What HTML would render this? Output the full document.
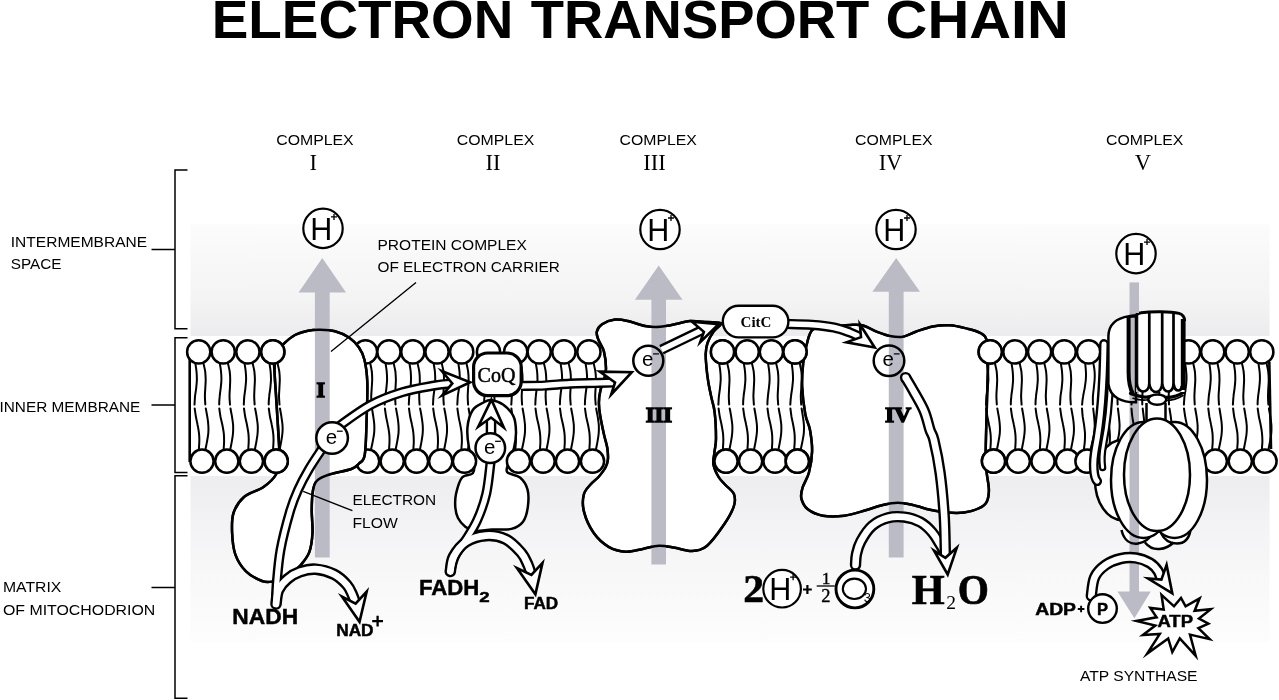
<!DOCTYPE html>
<html lang="en"><head><meta charset="utf-8"><title>Electron Transport Chain</title>
<style>html,body{margin:0;padding:0;background:#fff;overflow:hidden}svg{display:block}text{fill:#000}</style></head>
<body>
<svg width="1279" height="700" viewBox="0 0 1279 700">
<defs><linearGradient id="g1" x1="0" y1="0" x2="0" y2="1"><stop offset="0" stop-color="#fcfcfd"/><stop offset="0.3" stop-color="#f8f8f9"/><stop offset="0.65" stop-color="#f4f4f5"/><stop offset="1" stop-color="#ececee"/></linearGradient><linearGradient id="g2" x1="0" y1="0" x2="0" y2="1"><stop offset="0" stop-color="#ededef"/><stop offset="0.3" stop-color="#f3f3f5"/><stop offset="0.6" stop-color="#f8f8f9"/><stop offset="0.85" stop-color="#fbfbfc"/><stop offset="1" stop-color="#fdfdfe"/></linearGradient></defs>
<rect width="1279" height="700" fill="#fff"/>
<rect x="190.5" y="224" width="1079" height="112" fill="url(#g1)"/>
<rect x="190.5" y="476" width="1079" height="166" fill="url(#g2)"/>
<text x="211.8" y="38.4" font-family="'Liberation Sans'" font-size="54.4" font-weight="bold" text-anchor="start" textLength="301.5" lengthAdjust="spacingAndGlyphs" >ELECTRON</text>
<text x="530.8" y="38.4" font-family="'Liberation Sans'" font-size="54.4" font-weight="bold" text-anchor="start" textLength="338.5" lengthAdjust="spacingAndGlyphs" >TRANSPORT</text>
<text x="885.6" y="38.4" font-family="'Liberation Sans'" font-size="54.4" font-weight="bold" text-anchor="start" textLength="183.3" lengthAdjust="spacingAndGlyphs" >CHAIN</text>
<text x="276.2" y="145.1" font-family="'Liberation Sans'" font-size="14.7" font-weight="normal" text-anchor="start" textLength="77.5" lengthAdjust="spacingAndGlyphs" >COMPLEX</text>
<text x="313.3" y="170.3" font-family="'Liberation Serif'" font-size="22.5" font-weight="normal" text-anchor="middle" >I</text>
<text x="456.8" y="145.1" font-family="'Liberation Sans'" font-size="14.7" font-weight="normal" text-anchor="start" textLength="77.5" lengthAdjust="spacingAndGlyphs" >COMPLEX</text>
<text x="492.9" y="170.3" font-family="'Liberation Serif'" font-size="22.5" font-weight="normal" text-anchor="middle" >II</text>
<text x="619.5" y="145.1" font-family="'Liberation Sans'" font-size="14.7" font-weight="normal" text-anchor="start" textLength="77.3" lengthAdjust="spacingAndGlyphs" >COMPLEX</text>
<text x="654.6" y="170.3" font-family="'Liberation Serif'" font-size="22.5" font-weight="normal" text-anchor="middle" >III</text>
<text x="855.1" y="145.1" font-family="'Liberation Sans'" font-size="14.7" font-weight="normal" text-anchor="start" textLength="77.4" lengthAdjust="spacingAndGlyphs" >COMPLEX</text>
<text x="890.5" y="170.3" font-family="'Liberation Serif'" font-size="22.5" font-weight="normal" text-anchor="middle" >IV</text>
<text x="1106" y="145.1" font-family="'Liberation Sans'" font-size="14.7" font-weight="normal" text-anchor="start" textLength="77.4" lengthAdjust="spacingAndGlyphs" >COMPLEX</text>
<text x="1142.8" y="170.3" font-family="'Liberation Serif'" font-size="22.5" font-weight="normal" text-anchor="middle" >V</text>
<text x="10.8" y="246.9" font-family="'Liberation Sans'" font-size="15.3" font-weight="normal" text-anchor="start" textLength="136.3" lengthAdjust="spacingAndGlyphs" >INTERMEMBRANE</text>
<text x="10.8" y="269.4" font-family="'Liberation Sans'" font-size="15.3" font-weight="normal" text-anchor="start" textLength="50.8" lengthAdjust="spacingAndGlyphs" >SPACE</text>
<text x="-0.5" y="411.8" font-family="'Liberation Sans'" font-size="15.3" font-weight="normal" text-anchor="start" textLength="140.8" lengthAdjust="spacingAndGlyphs" >INNER MEMBRANE</text>
<text x="3" y="592.4" font-family="'Liberation Sans'" font-size="15.3" font-weight="normal" text-anchor="start" textLength="58.3" lengthAdjust="spacingAndGlyphs" >MATRIX</text>
<text x="3" y="615.2" font-family="'Liberation Sans'" font-size="15.3" font-weight="normal" text-anchor="start" textLength="152.3" lengthAdjust="spacingAndGlyphs" >OF MITOCHODRION</text>
<path d="M151.5,249.4H175 M151.5,405H175 M151.5,587.5H175 M187.5,170H175V328.7H187.5 M187.5,337.8H175V472.4H187.5 M187.5,475.8H175V698.3H187.5" fill="none" stroke="#000" stroke-width="1.5"/>
<text x="377.5" y="249.6" font-family="'Liberation Sans'" font-size="15.3" font-weight="normal" text-anchor="start" textLength="149.3" lengthAdjust="spacingAndGlyphs" >PROTEIN COMPLEX</text>
<text x="377.5" y="272.3" font-family="'Liberation Sans'" font-size="15.3" font-weight="normal" text-anchor="start" textLength="182.3" lengthAdjust="spacingAndGlyphs" >OF ELECTRON CARRIER</text>
<text x="352.4" y="505.1" font-family="'Liberation Sans'" font-size="15.2" font-weight="normal" text-anchor="start" textLength="83.8" lengthAdjust="spacingAndGlyphs" >ELECTRON</text>
<text x="352.4" y="527.7" font-family="'Liberation Sans'" font-size="15.2" font-weight="normal" text-anchor="start" textLength="45.3" lengthAdjust="spacingAndGlyphs" >FLOW</text>
<path d="M362.1,363.2C362.3,364.6 363,368.7 363.2,371.5C363.4,374.3 363.5,377 363.4,379.8C363.3,382.5 363,385.3 362.6,388.1C362.3,390.8 361.7,393.6 361.4,396.4C361.1,399.1 360.8,403.3 360.7,404.6 M360.8,408.5C361,409.8 361.5,414 361.9,416.7C362.4,419.5 363.1,422.3 363.6,425C364.1,427.8 364.6,430.6 364.9,433.3C365.1,436.1 365.1,438.8 365.1,441.6C365,444.4 364.5,448.5 364.4,449.9 M370.2,363.2C370.5,364.6 371.5,368.7 371.8,371.5C372.2,374.3 372.2,377 372.2,379.8C372.2,382.5 371.9,385.3 371.7,388.1C371.6,390.8 371.3,393.6 371.2,396.4C371.2,399.1 371.5,403.3 371.6,404.6 M372,408.5C372.2,409.8 372.9,414 373.3,416.7C373.7,419.5 374.2,422.3 374.3,425C374.4,427.8 374.4,430.6 374.1,433.3C373.8,436.1 373.2,438.8 372.7,441.6C372.2,444.4 371.2,448.5 371,449.9 M385.5,363.2C385.7,364.6 386.5,368.7 386.7,371.5C387,374.3 387.1,377 387.1,379.8C387,382.5 386.7,385.3 386.4,388.1C386.1,390.8 385.5,393.6 385.2,396.4C385,399.1 384.8,403.3 384.7,404.6 M384.9,408.5C385.1,409.8 385.6,414 386.1,416.7C386.6,419.5 387.3,422.3 387.8,425C388.4,427.8 388.9,430.6 389.2,433.3C389.5,436.1 389.6,438.8 389.5,441.6C389.5,444.4 389.1,448.5 389,449.9 M393.6,363.2C393.9,364.6 395,368.7 395.4,371.5C395.7,374.3 395.8,377 395.9,379.8C395.9,382.5 395.6,385.3 395.5,388.1C395.3,390.8 395.1,393.6 395.1,396.4C395.1,399.1 395.5,403.3 395.5,404.6 M396,408.5C396.3,409.8 397,414 397.5,416.7C397.9,419.5 398.4,422.3 398.5,425C398.7,427.8 398.7,430.6 398.5,433.3C398.2,436.1 397.7,438.8 397.2,441.6C396.7,444.4 395.8,448.5 395.6,449.9 M409.4,363.2C409.6,364.6 410.4,368.7 410.7,371.5C410.9,374.3 411.1,377 411,379.8C411,382.5 410.7,385.3 410.4,388.1C410.1,390.8 409.6,393.6 409.3,396.4C409,399.1 408.9,403.3 408.8,404.6 M409,408.5C409.2,409.8 409.7,414 410.2,416.7C410.7,419.5 411.5,422.3 412,425C412.6,427.8 413.2,430.6 413.4,433.3C413.7,436.1 413.8,438.8 413.8,441.6C413.8,444.4 413.4,448.5 413.3,449.9 M417.5,363.2C417.8,364.6 418.9,368.7 419.3,371.5C419.7,374.3 419.8,377 419.8,379.8C419.9,382.5 419.6,385.3 419.5,388.1C419.4,390.8 419.1,393.6 419.2,396.4C419.2,399.1 419.5,403.3 419.6,404.6 M420.1,408.5C420.4,409.8 421.2,414 421.6,416.7C422,419.5 422.5,422.3 422.7,425C422.9,427.8 422.9,430.6 422.7,433.3C422.5,436.1 421.9,438.8 421.5,441.6C421,444.4 420.1,448.5 419.9,449.9 M433.6,363.2C433.8,364.6 434.6,368.7 434.9,371.5C435.1,374.3 435.3,377 435.2,379.8C435.2,382.5 434.9,385.3 434.6,388.1C434.3,390.8 433.8,393.6 433.5,396.4C433.2,399.1 433.1,403.3 433,404.6 M433.2,408.5C433.4,409.8 433.9,414 434.4,416.7C434.9,419.5 435.7,422.3 436.2,425C436.8,427.8 437.4,430.6 437.6,433.3C437.9,436.1 438,438.8 438,441.6C438,444.4 437.6,448.5 437.5,449.9 M441.7,363.2C442,364.6 443.1,368.7 443.5,371.5C443.9,374.3 444,377 444,379.8C444.1,382.5 443.8,385.3 443.7,388.1C443.6,390.8 443.3,393.6 443.4,396.4C443.4,399.1 443.7,403.3 443.8,404.6 M444.3,408.5C444.6,409.8 445.4,414 445.8,416.7C446.2,419.5 446.7,422.3 446.9,425C447.1,427.8 447.1,430.6 446.9,433.3C446.7,436.1 446.1,438.8 445.7,441.6C445.2,444.4 444.3,448.5 444.1,449.9 M458.3,363.2C458.5,364.6 459.2,368.7 459.5,371.5C459.7,374.3 459.8,377 459.8,379.8C459.7,382.5 459.3,385.3 459,388.1C458.7,390.8 458.1,393.6 457.8,396.4C457.6,399.1 457.4,403.3 457.3,404.6 M457.4,408.5C457.6,409.8 458.1,414 458.6,416.7C459,419.5 459.8,422.3 460.3,425C460.8,427.8 461.4,430.6 461.6,433.3C461.9,436.1 461.9,438.8 461.9,441.6C461.8,444.4 461.4,448.5 461.3,449.9 M466.4,363.2C466.7,364.6 467.8,368.7 468.1,371.5C468.5,374.3 468.6,377 468.6,379.8C468.6,382.5 468.3,385.3 468.1,388.1C468,390.8 467.7,393.6 467.7,396.4C467.7,399.1 468,403.3 468.1,404.6 M468.6,408.5C468.8,409.8 469.6,414 470,416.7C470.4,419.5 470.8,422.3 471,425C471.1,427.8 471.1,430.6 470.9,433.3C470.6,436.1 470.1,438.8 469.6,441.6C469.1,444.4 468.1,448.5 467.9,449.9 M485.1,363.2C485.3,364.6 486,368.7 486.2,371.5C486.5,374.3 486.6,377 486.5,379.8C486.4,382.5 486.1,385.3 485.7,388.1C485.4,390.8 484.8,393.6 484.5,396.4C484.2,399.1 484,403.3 483.9,404.6 M484,408.5C484.2,409.8 484.7,414 485.2,416.7C485.6,419.5 486.4,422.3 486.9,425C487.4,427.8 487.9,430.6 488.2,433.3C488.4,436.1 488.5,438.8 488.4,441.6C488.4,444.4 487.9,448.5 487.8,449.9 M493.2,363.2C493.5,364.6 494.5,368.7 494.9,371.5C495.2,374.3 495.3,377 495.3,379.8C495.3,382.5 495,385.3 494.8,388.1C494.7,390.8 494.4,393.6 494.4,396.4C494.4,399.1 494.7,403.3 494.7,404.6 M495.2,408.5C495.4,409.8 496.2,414 496.6,416.7C497,419.5 497.4,422.3 497.6,425C497.7,427.8 497.7,430.6 497.4,433.3C497.2,436.1 496.6,438.8 496.1,441.6C495.6,444.4 494.6,448.5 494.4,449.9 M512.3,363.2C512.5,364.6 513.2,368.7 513.5,371.5C513.7,374.3 513.8,377 513.8,379.8C513.7,382.5 513.3,385.3 513,388.1C512.7,390.8 512.1,393.6 511.8,396.4C511.6,399.1 511.4,403.3 511.3,404.6 M511.4,408.5C511.6,409.8 512.1,414 512.6,416.7C513,419.5 513.8,422.3 514.3,425C514.8,427.8 515.4,430.6 515.6,433.3C515.9,436.1 515.9,438.8 515.9,441.6C515.8,444.4 515.4,448.5 515.3,449.9 M520.4,363.2C520.7,364.6 521.8,368.7 522.1,371.5C522.5,374.3 522.6,377 522.6,379.8C522.6,382.5 522.3,385.3 522.1,388.1C522,390.8 521.7,393.6 521.7,396.4C521.7,399.1 522,403.3 522.1,404.6 M522.6,408.5C522.8,409.8 523.6,414 524,416.7C524.4,419.5 524.8,422.3 525,425C525.1,427.8 525.1,430.6 524.9,433.3C524.6,436.1 524.1,438.8 523.6,441.6C523.1,444.4 522.1,448.5 521.9,449.9 M535.8,363.2C536,364.6 536.8,368.7 537.1,371.5C537.4,374.3 537.5,377 537.5,379.8C537.4,382.5 537.1,385.3 536.8,388.1C536.5,390.8 536,393.6 535.8,396.4C535.5,399.1 535.4,403.3 535.3,404.6 M535.5,408.5C535.7,409.8 536.2,414 536.7,416.7C537.2,419.5 538,422.3 538.6,425C539.1,427.8 539.7,430.6 540,433.3C540.3,436.1 540.4,438.8 540.4,441.6C540.4,444.4 540,448.5 539.9,449.9 M543.9,363.2C544.2,364.6 545.3,368.7 545.7,371.5C546.1,374.3 546.2,377 546.3,379.8C546.3,382.5 546.1,385.3 545.9,388.1C545.8,390.8 545.6,393.6 545.6,396.4C545.7,399.1 546,403.3 546.1,404.6 M546.6,408.5C546.9,409.8 547.7,414 548.1,416.7C548.6,419.5 549.1,422.3 549.3,425C549.5,427.8 549.5,430.6 549.3,433.3C549,436.1 548.5,438.8 548.1,441.6C547.6,444.4 546.7,448.5 546.5,449.9 M560.5,363.2C560.7,364.6 561.5,368.7 561.7,371.5C562,374.3 562.2,377 562.1,379.8C562.1,382.5 561.7,385.3 561.4,388.1C561.1,390.8 560.6,393.6 560.4,396.4C560.1,399.1 559.9,403.3 559.9,404.6 M560,408.5C560.2,409.8 560.7,414 561.2,416.7C561.8,419.5 562.5,422.3 563.1,425C563.6,427.8 564.2,430.6 564.5,433.3C564.8,436.1 564.8,438.8 564.8,441.6C564.8,444.4 564.4,448.5 564.3,449.9 M568.6,363.2C568.9,364.6 570,368.7 570.4,371.5C570.8,374.3 570.9,377 570.9,379.8C570.9,382.5 570.7,385.3 570.6,388.1C570.4,390.8 570.2,393.6 570.2,396.4C570.2,399.1 570.6,403.3 570.7,404.6 M571.2,408.5C571.4,409.8 572.2,414 572.7,416.7C573.1,419.5 573.6,422.3 573.8,425C573.9,427.8 573.9,430.6 573.7,433.3C573.5,436.1 573,438.8 572.5,441.6C572,444.4 571.1,448.5 570.9,449.9 M585.5,363.2C585.7,364.6 586.5,368.7 586.7,371.5C587,374.3 587.2,377 587.1,379.8C587.1,382.5 586.7,385.3 586.4,388.1C586.1,390.8 585.6,393.6 585.4,396.4C585.1,399.1 584.9,403.3 584.9,404.6 M585,408.5C585.2,409.8 585.7,414 586.2,416.7C586.8,419.5 587.5,422.3 588.1,425C588.6,427.8 589.2,430.6 589.5,433.3C589.8,436.1 589.8,438.8 589.8,441.6C589.8,444.4 589.4,448.5 589.3,449.9 M593.6,363.2C593.9,364.6 595,368.7 595.4,371.5C595.8,374.3 595.9,377 595.9,379.8C595.9,382.5 595.7,385.3 595.6,388.1C595.4,390.8 595.2,393.6 595.2,396.4C595.2,399.1 595.6,403.3 595.7,404.6 M596.2,408.5C596.4,409.8 597.2,414 597.7,416.7C598.1,419.5 598.6,422.3 598.8,425C598.9,427.8 598.9,430.6 598.7,433.3C598.5,436.1 598,438.8 597.5,441.6C597,444.4 596.1,448.5 595.9,449.9" fill="none" stroke="#000" stroke-width="2" stroke-linecap="round"/>
<path d="M491,400C494.2,400.4 499.2,401.9 503,404.6C506.8,407.3 511.3,411.8 513.5,416.4C515.7,421 515.9,426.7 516,432C516.1,437.3 515.2,443 514,448C512.8,453 510.1,458 509,462C507.9,466 505.3,469.4 507.1,472C508.9,474.6 516.6,474.6 520,477.5C523.4,480.4 526.2,484.5 527.5,489.3C528.8,494.1 528.6,501 527.9,506.4C527.2,511.8 526,517.6 523.2,521.4C520.5,525.1 516.6,527.5 511.4,528.9C506.2,530.2 498.2,529.1 492.1,529.5C486,529.9 479.5,531.5 475,531C470.5,530.5 468.1,529 465.3,526.8C462.5,524.6 459.7,521.3 458,518C456.3,514.7 455.6,511.1 455.3,507C455,502.9 455,498.5 456.1,493.6C457.2,488.7 459.3,480.9 462.1,477.5C464.9,474.1 470.8,475.8 472.8,473.2C474.8,470.6 474.6,466.2 474,462C473.4,457.8 470.1,453.8 469,448C467.9,442.2 466.9,433.3 467.5,427C468.1,420.7 470.1,414.1 472.8,410C475.5,405.9 480.5,404.2 483.5,402.5C486.5,400.8 487.8,399.6 491,400Z" fill="#fff" stroke="#000" stroke-width="2.5"/>
<circle cx="365.5" cy="351.9" r="11.6" fill="#fff" stroke="#000" stroke-width="2.5"/>
<circle cx="388.9" cy="351.9" r="11.6" fill="#fff" stroke="#000" stroke-width="2.5"/>
<circle cx="412.8" cy="351.9" r="11.6" fill="#fff" stroke="#000" stroke-width="2.5"/>
<circle cx="437" cy="351.9" r="11.6" fill="#fff" stroke="#000" stroke-width="2.5"/>
<circle cx="461.7" cy="351.9" r="11.6" fill="#fff" stroke="#000" stroke-width="2.5"/>
<circle cx="488.5" cy="351.9" r="11.6" fill="#fff" stroke="#000" stroke-width="2.5"/>
<circle cx="515.7" cy="351.9" r="11.6" fill="#fff" stroke="#000" stroke-width="2.5"/>
<circle cx="539.2" cy="351.9" r="11.6" fill="#fff" stroke="#000" stroke-width="2.5"/>
<circle cx="563.9" cy="351.9" r="11.6" fill="#fff" stroke="#000" stroke-width="2.5"/>
<circle cx="588.9" cy="351.9" r="11.6" fill="#fff" stroke="#000" stroke-width="2.5"/>
<circle cx="367.6" cy="461.2" r="11.6" fill="#fff" stroke="#000" stroke-width="2.5"/>
<circle cx="392.2" cy="461.2" r="11.6" fill="#fff" stroke="#000" stroke-width="2.5"/>
<circle cx="416.5" cy="461.2" r="11.6" fill="#fff" stroke="#000" stroke-width="2.5"/>
<circle cx="440.7" cy="461.2" r="11.6" fill="#fff" stroke="#000" stroke-width="2.5"/>
<circle cx="464.5" cy="461.2" r="11.6" fill="#fff" stroke="#000" stroke-width="2.5"/>
<circle cx="518.5" cy="461.2" r="11.6" fill="#fff" stroke="#000" stroke-width="2.5"/>
<circle cx="543.1" cy="461.2" r="11.6" fill="#fff" stroke="#000" stroke-width="2.5"/>
<circle cx="567.5" cy="461.2" r="11.6" fill="#fff" stroke="#000" stroke-width="2.5"/>
<circle cx="592.5" cy="461.2" r="11.6" fill="#fff" stroke="#000" stroke-width="2.5"/>
<path d="M283.5,344C286.5,341.2 290.9,337.2 295,335C299.1,332.8 303.8,331.6 308,330.7C312.2,329.8 315.5,329.6 320,329.7C324.5,329.8 330.2,329.9 335,331.2C339.8,332.5 345,334.8 349,337.5C353,340.2 356.4,343.8 359,347.5C361.6,351.2 363.1,354.2 364.5,360C365.9,365.8 366.9,372 367.3,382C367.7,392 367,407.8 366.6,420C366.2,432.2 366,447.8 364.7,455C363.4,462.2 361.2,461.2 359,463.5C356.8,465.8 356.2,467.2 351.4,469C346.6,470.8 335.7,472.4 330,474.3C324.3,476.2 319.9,477.9 317,480.7C314.1,483.5 313.7,486.5 312.8,491.4C311.9,496.3 311.8,503.1 311.7,510C311.6,516.9 312.9,525.8 312.5,532.8C312.1,539.8 311.3,546.7 309.3,552.1C307.3,557.5 303.6,561.6 300.7,565C297.8,568.4 295.3,570 292.1,572.5C288.9,575 284.8,578.5 281.4,580C278,581.5 275,581.5 271.8,581.7C268.6,581.9 266.3,582.7 262,581C257.7,579.3 250.4,575.9 246,571.4C241.6,566.9 237.6,560.7 235.3,554.3C233,547.9 232.4,539.7 232.1,532.8C231.8,525.9 231.5,519 233.5,513C235.5,507 239,501.3 244,497C249,492.7 258.2,490.8 263.5,487C268.8,483.2 273.4,479.3 276,474.5C278.6,469.7 278.9,465.4 279.3,458C279.7,450.6 278.7,439.7 278.2,430C277.7,420.3 277,410 276.4,400C275.8,390 274.5,378 274.6,370C274.7,362 275.5,356.3 277,352C278.5,347.7 280.5,346.8 283.5,344Z" fill="#fff" stroke="#000" stroke-width="2.5"/>
<rect x="189.6" y="352" width="90" height="109" fill="#fff"/>
<path d="M195.3,363.2C195.5,364.6 196.3,368.7 196.5,371.5C196.8,374.3 196.9,377 196.9,379.8C196.8,382.5 196.5,385.3 196.2,388.1C195.9,390.8 195.3,393.6 195,396.4C194.8,399.1 194.6,403.3 194.5,404.6 M194.7,408.5C194.9,409.8 195.4,414 195.9,416.7C196.4,419.5 197.1,422.3 197.6,425C198.2,427.8 198.7,430.6 199,433.3C199.3,436.1 199.4,438.8 199.3,441.6C199.3,444.4 198.9,448.5 198.8,449.9 M203.4,363.2C203.7,364.6 204.8,368.7 205.2,371.5C205.5,374.3 205.6,377 205.7,379.8C205.7,382.5 205.4,385.3 205.3,388.1C205.1,390.8 204.9,393.6 204.9,396.4C204.9,399.1 205.3,403.3 205.3,404.6 M205.8,408.5C206.1,409.8 206.8,414 207.3,416.7C207.7,419.5 208.2,422.3 208.3,425C208.5,427.8 208.5,430.6 208.3,433.3C208,436.1 207.5,438.8 207,441.6C206.5,444.4 205.6,448.5 205.4,449.9 M219.8,363.2C220,364.6 220.8,368.7 221,371.5C221.3,374.3 221.5,377 221.4,379.8C221.4,382.5 221,385.3 220.7,388.1C220.4,390.8 219.9,393.6 219.7,396.4C219.4,399.1 219.2,403.3 219.2,404.6 M219.3,408.5C219.5,409.8 220,414 220.5,416.7C221.1,419.5 221.8,422.3 222.4,425C222.9,427.8 223.5,430.6 223.8,433.3C224.1,436.1 224.1,438.8 224.1,441.6C224.1,444.4 223.7,448.5 223.6,449.9 M227.9,363.2C228.2,364.6 229.3,368.7 229.7,371.5C230.1,374.3 230.2,377 230.2,379.8C230.2,382.5 230,385.3 229.9,388.1C229.7,390.8 229.5,393.6 229.5,396.4C229.5,399.1 229.9,403.3 230,404.6 M230.5,408.5C230.7,409.8 231.5,414 232,416.7C232.4,419.5 232.9,422.3 233.1,425C233.2,427.8 233.2,430.6 233,433.3C232.8,436.1 232.3,438.8 231.8,441.6C231.3,444.4 230.4,448.5 230.2,449.9 M244.5,363.2C244.7,364.6 245.5,368.7 245.7,371.5C246,374.3 246.2,377 246.1,379.8C246,382.5 245.7,385.3 245.4,388.1C245.1,390.8 244.6,393.6 244.3,396.4C244,399.1 243.9,403.3 243.8,404.6 M244,408.5C244.2,409.8 244.7,414 245.2,416.7C245.7,419.5 246.5,422.3 247,425C247.5,427.8 248.1,430.6 248.4,433.3C248.7,436.1 248.8,438.8 248.7,441.6C248.7,444.4 248.3,448.5 248.2,449.9 M252.6,363.2C252.9,364.6 254,368.7 254.4,371.5C254.7,374.3 254.9,377 254.9,379.8C254.9,382.5 254.6,385.3 254.5,388.1C254.4,390.8 254.2,393.6 254.2,396.4C254.2,399.1 254.6,403.3 254.6,404.6 M255.1,408.5C255.4,409.8 256.2,414 256.6,416.7C257,419.5 257.5,422.3 257.7,425C257.9,427.8 257.8,430.6 257.6,433.3C257.4,436.1 256.9,438.8 256.4,441.6C255.9,444.4 255,448.5 254.8,449.9 M269.4,363.2C269.6,364.6 270.4,368.7 270.6,371.5C270.9,374.3 271,377 271,379.8C270.9,382.5 270.6,385.3 270.3,388.1C270,390.8 269.4,393.6 269.2,396.4C268.9,399.1 268.7,403.3 268.7,404.6 M268.8,408.5C269,409.8 269.5,414 270,416.7C270.5,419.5 271.3,422.3 271.8,425C272.4,427.8 272.9,430.6 273.2,433.3C273.5,436.1 273.6,438.8 273.5,441.6C273.5,444.4 273.1,448.5 273,449.9 M277.5,363.2C277.8,364.6 278.9,368.7 279.3,371.5C279.6,374.3 279.8,377 279.8,379.8C279.8,382.5 279.5,385.3 279.4,388.1C279.3,390.8 279,393.6 279,396.4C279.1,399.1 279.4,403.3 279.5,404.6 M280,408.5C280.2,409.8 281,414 281.4,416.7C281.8,419.5 282.3,422.3 282.5,425C282.7,427.8 282.7,430.6 282.4,433.3C282.2,436.1 281.7,438.8 281.2,441.6C280.7,444.4 279.8,448.5 279.6,449.9" fill="none" stroke="#000" stroke-width="2" stroke-linecap="round"/>
<path d="M189.7,352V462 M274,364L279.3,449" fill="none" stroke="#000" stroke-width="2.6"/>
<circle cx="198.7" cy="351.9" r="11.6" fill="#fff" stroke="#000" stroke-width="2.5"/>
<circle cx="223.2" cy="351.9" r="11.6" fill="#fff" stroke="#000" stroke-width="2.5"/>
<circle cx="247.9" cy="351.9" r="11.6" fill="#fff" stroke="#000" stroke-width="2.5"/>
<circle cx="272.8" cy="351.9" r="11.6" fill="#fff" stroke="#000" stroke-width="2.5"/>
<circle cx="202" cy="461.2" r="11.6" fill="#fff" stroke="#000" stroke-width="2.5"/>
<circle cx="226.8" cy="461.2" r="11.6" fill="#fff" stroke="#000" stroke-width="2.5"/>
<circle cx="251.4" cy="461.2" r="11.6" fill="#fff" stroke="#000" stroke-width="2.5"/>
<circle cx="276.2" cy="461.2" r="11.6" fill="#fff" stroke="#000" stroke-width="2.5"/>
<path d="M606,368.5C606,363.7 605.1,356.1 603.9,351.4C602.6,346.6 599.7,343.3 598.5,340C597.3,336.7 596.2,334.4 596.8,331.8C597.4,329.2 599.1,326.3 602.1,324.3C605.1,322.3 610.7,320.2 615,319.6C619.3,319.1 622.8,319.9 627.8,321C632.8,322.1 639.6,325 645,326C650.4,327 654.6,327.2 660,326.8C665.4,326.4 672.1,324.8 677.1,323.8C682.1,322.8 685,321.3 690,321C695,320.7 701.9,321.7 707.1,322.1C712.3,322.5 720,321.7 721,323.3C722,324.9 715.6,328.6 713.4,331.9C711.1,335.2 708.8,339.4 707.5,343C706.2,346.6 705.9,349.5 705.7,353.7C705.5,357.9 706.1,363.3 706.5,368C706.9,372.7 707.5,377 708.3,382C709.1,387 710.4,392.9 711.5,398C712.6,403.1 714,406.1 714.7,412.8C715.5,419.6 716,432 716,438.5C716,445 714.9,447.7 714.5,452C714.1,456.3 712.7,460 713.4,464.2C714.1,468.4 716.6,473.5 718.6,477C720.6,480.5 723,482.2 725.5,485C728,487.8 732.5,490.5 733.9,494C735.3,497.5 735.5,500.9 733.9,506C732.3,511.1 728.7,517.7 724.2,524.3C719.7,530.9 712.5,541.2 707.1,545.7C701.8,550.2 697.5,550.6 692.1,551C686.8,551.4 680.5,548.7 675,547.8C669.5,546.9 664.3,545.5 658.9,545.7C653.5,545.9 648.3,547.9 642.8,548.9C637.3,549.9 631.4,552.1 625.7,551.7C620,551.4 614,549.9 608.6,546.8C603.2,543.6 597.7,538.7 593.6,532.8C589.5,526.9 585.5,517.8 583.9,511.4C582.3,505 582.7,498.9 583.9,494.3C585.1,489.7 588.6,486.9 591,484C593.4,481.1 596.1,479.8 598.5,477C600.9,474.2 603.9,470.4 605.5,467.5C607.1,464.6 607.6,462.8 607.9,459.5C608.2,456.2 607.9,452.1 607.3,448C606.7,443.9 605.3,440.4 604.1,435C602.9,429.6 601.1,421 600.2,415.7C599.3,410.4 598.9,407.3 598.9,403C598.9,398.7 599.6,393.8 600.5,390C601.4,386.2 603.1,383.6 604,380C604.9,376.4 606,373.3 606,368.5Z" fill="#fff" stroke="#000" stroke-width="2.5"/>
<path d="M812.8,329.6C816.7,326.5 823.8,327.8 830,327C836.2,326.2 844.6,325.3 850,325C855.4,324.7 857.6,324.2 862.1,325.3C866.6,326.4 872.5,330 877.1,331.8C881.8,333.6 885.7,335.2 890,336C894.3,336.8 898.5,337.4 902.8,336.7C907.1,336 910.7,333.5 915.7,331.8C920.7,330.1 927.1,327.5 932.8,326.4C938.5,325.3 944.3,324.9 950,325.3C955.7,325.7 962.1,327.4 967.1,328.6C972.1,329.9 976.8,331 980,332.8C983.2,334.6 985.1,334.8 986.4,339.3C987.7,343.8 987.9,349.9 988,360C988.1,370.1 987.4,383.7 987,400C986.6,416.3 985.6,445.7 985.6,457.8C985.6,469.9 986.2,467.4 986.7,472.8C987.2,478.2 988.9,485.2 988.9,490C988.9,494.8 988.3,498.8 986.7,501.8C985.1,504.8 983,506.4 979.2,508.2C975.5,510 969.6,511.8 964.2,512.5C958.9,513.2 952.8,513 947.1,512.5C941.4,512 935.7,510.9 930,509.7C924.3,508.4 918.2,506.1 912.8,505C907.4,503.9 902.8,502.8 897.8,502.8C892.8,502.8 888.1,503.8 882.8,505C877.4,506.2 872.1,508.5 865.7,510.3C859.3,512.1 851.4,514.8 844.3,515.7C837.1,516.6 828.9,516.8 822.8,515.7C816.7,514.6 811.4,512.1 807.8,509.3C804.2,506.4 802.3,502.2 801.4,498.6C800.5,495 801.2,492.1 802.5,487.8C803.8,483.5 807.3,478.9 808.9,472.8C810.5,466.7 811.9,458.5 812.1,451.4C812.3,444.3 811.1,436.2 810,430C808.9,423.8 806.6,421.6 805.3,414.3C804,407 802.5,395 802.1,386.4C801.8,377.8 802.5,369.6 803.2,362.8C803.9,356 804.8,351.2 806.4,345.7C808,340.2 808.9,332.7 812.8,329.6Z" fill="#fff" stroke="#000" stroke-width="2.5"/>
<path d="M719.1,363.2C719.3,364.6 720.1,368.7 720.3,371.5C720.6,374.3 720.8,377 720.7,379.8C720.6,382.5 720.3,385.3 720,388.1C719.7,390.8 719.2,393.6 718.9,396.4C718.6,399.1 718.5,403.3 718.4,404.6 M718.6,408.5C718.8,409.8 719.3,414 719.8,416.7C720.3,419.5 721.1,422.3 721.6,425C722.1,427.8 722.7,430.6 723,433.3C723.3,436.1 723.4,438.8 723.3,441.6C723.3,444.4 722.9,448.5 722.8,449.9 M727.2,363.2C727.5,364.6 728.6,368.7 729,371.5C729.3,374.3 729.5,377 729.5,379.8C729.5,382.5 729.2,385.3 729.1,388.1C729,390.8 728.8,393.6 728.8,396.4C728.8,399.1 729.2,403.3 729.2,404.6 M729.7,408.5C730,409.8 730.8,414 731.2,416.7C731.6,419.5 732.1,422.3 732.3,425C732.5,427.8 732.4,430.6 732.2,433.3C732,436.1 731.5,438.8 731,441.6C730.5,444.4 729.6,448.5 729.4,449.9 M743.8,363.2C744,364.6 744.8,368.7 745,371.5C745.3,374.3 745.4,377 745.4,379.8C745.3,382.5 745,385.3 744.7,388.1C744.4,390.8 743.8,393.6 743.6,396.4C743.3,399.1 743.1,403.3 743.1,404.6 M743.2,408.5C743.4,409.8 743.9,414 744.4,416.7C744.9,419.5 745.7,422.3 746.2,425C746.8,427.8 747.3,430.6 747.6,433.3C747.9,436.1 748,438.8 747.9,441.6C747.9,444.4 747.5,448.5 747.4,449.9 M751.9,363.2C752.2,364.6 753.3,368.7 753.7,371.5C754,374.3 754.2,377 754.2,379.8C754.2,382.5 753.9,385.3 753.8,388.1C753.7,390.8 753.4,393.6 753.4,396.4C753.5,399.1 753.8,403.3 753.9,404.6 M754.4,408.5C754.6,409.8 755.4,414 755.8,416.7C756.2,419.5 756.7,422.3 756.9,425C757.1,427.8 757.1,430.6 756.8,433.3C756.6,436.1 756.1,438.8 755.6,441.6C755.1,444.4 754.2,448.5 754,449.9 M768,363.2C768.2,364.6 769,368.7 769.2,371.5C769.5,374.3 769.7,377 769.6,379.8C769.6,382.5 769.2,385.3 768.9,388.1C768.6,390.8 768.1,393.6 767.9,396.4C767.6,399.1 767.4,403.3 767.4,404.6 M767.5,408.5C767.7,409.8 768.2,414 768.7,416.7C769.3,419.5 770,422.3 770.6,425C771.1,427.8 771.7,430.6 772,433.3C772.3,436.1 772.3,438.8 772.3,441.6C772.3,444.4 771.9,448.5 771.8,449.9 M776.1,363.2C776.4,364.6 777.5,368.7 777.9,371.5C778.3,374.3 778.4,377 778.4,379.8C778.4,382.5 778.2,385.3 778.1,388.1C777.9,390.8 777.7,393.6 777.7,396.4C777.7,399.1 778.1,403.3 778.2,404.6 M778.7,408.5C778.9,409.8 779.7,414 780.2,416.7C780.6,419.5 781.1,422.3 781.3,425C781.4,427.8 781.4,430.6 781.2,433.3C781,436.1 780.5,438.8 780,441.6C779.5,444.4 778.6,448.5 778.4,449.9 M791.6,363.2C791.8,364.6 792.5,368.7 792.7,371.5C792.9,374.3 793.1,377 793,379.8C792.9,382.5 792.5,385.3 792.2,388.1C791.8,390.8 791.3,393.6 791,396.4C790.6,399.1 790.4,403.3 790.3,404.6 M790.4,408.5C790.6,409.8 791.1,414 791.5,416.7C792,419.5 792.7,422.3 793.2,425C793.7,427.8 794.3,430.6 794.5,433.3C794.8,436.1 794.8,438.8 794.7,441.6C794.7,444.4 794.2,448.5 794.1,449.9 M799.7,363.2C800,364.6 801,368.7 801.4,371.5C801.7,374.3 801.8,377 801.8,379.8C801.8,382.5 801.4,385.3 801.3,388.1C801.1,390.8 800.8,393.6 800.8,396.4C800.8,399.1 801.1,403.3 801.2,404.6 M801.6,408.5C801.8,409.8 802.6,414 802.9,416.7C803.3,419.5 803.8,422.3 803.9,425C804.1,427.8 804,430.6 803.8,433.3C803.5,436.1 802.9,438.8 802.4,441.6C801.9,444.4 800.9,448.5 800.7,449.9" fill="none" stroke="#000" stroke-width="2" stroke-linecap="round"/>
<circle cx="722.5" cy="351.9" r="11.6" fill="#fff" stroke="#000" stroke-width="2.5"/>
<circle cx="747.2" cy="351.9" r="11.6" fill="#fff" stroke="#000" stroke-width="2.5"/>
<circle cx="771.4" cy="351.9" r="11.6" fill="#fff" stroke="#000" stroke-width="2.5"/>
<circle cx="795" cy="351.9" r="11.6" fill="#fff" stroke="#000" stroke-width="2.5"/>
<circle cx="726" cy="461.2" r="11.6" fill="#fff" stroke="#000" stroke-width="2.5"/>
<circle cx="750.6" cy="461.2" r="11.6" fill="#fff" stroke="#000" stroke-width="2.5"/>
<circle cx="775" cy="461.2" r="11.6" fill="#fff" stroke="#000" stroke-width="2.5"/>
<circle cx="797.3" cy="461.2" r="11.6" fill="#fff" stroke="#000" stroke-width="2.5"/>
<path d="M986.8,363.2C987,364.6 987.8,368.7 988,371.5C988.3,374.3 988.4,377 988.4,379.8C988.3,382.5 988,385.3 987.7,388.1C987.4,390.8 986.8,393.6 986.5,396.4C986.3,399.1 986.1,403.3 986,404.6 M986.2,408.5C986.4,409.8 986.9,414 987.4,416.7C987.9,419.5 988.6,422.3 989.1,425C989.7,427.8 990.2,430.6 990.5,433.3C990.8,436.1 990.9,438.8 990.8,441.6C990.8,444.4 990.4,448.5 990.3,449.9 M994.9,363.2C995.2,364.6 996.3,368.7 996.7,371.5C997,374.3 997.1,377 997.2,379.8C997.2,382.5 996.9,385.3 996.8,388.1C996.6,390.8 996.4,393.6 996.4,396.4C996.4,399.1 996.8,403.3 996.8,404.6 M997.3,408.5C997.6,409.8 998.3,414 998.8,416.7C999.2,419.5 999.7,422.3 999.8,425C1000,427.8 1000,430.6 999.8,433.3C999.5,436.1 999,438.8 998.5,441.6C998,444.4 997.1,448.5 996.9,449.9 M1011.5,363.2C1011.7,364.6 1012.5,368.7 1012.7,371.5C1013,374.3 1013.1,377 1013.1,379.8C1013,382.5 1012.7,385.3 1012.4,388.1C1012.1,390.8 1011.5,393.6 1011.3,396.4C1011,399.1 1010.8,403.3 1010.8,404.6 M1010.9,408.5C1011.1,409.8 1011.6,414 1012.1,416.7C1012.6,419.5 1013.4,422.3 1013.9,425C1014.5,427.8 1015,430.6 1015.3,433.3C1015.6,436.1 1015.7,438.8 1015.6,441.6C1015.6,444.4 1015.2,448.5 1015.1,449.9 M1019.6,363.2C1019.9,364.6 1021,368.7 1021.4,371.5C1021.7,374.3 1021.9,377 1021.9,379.8C1021.9,382.5 1021.6,385.3 1021.5,388.1C1021.4,390.8 1021.1,393.6 1021.1,396.4C1021.2,399.1 1021.5,403.3 1021.6,404.6 M1022.1,408.5C1022.3,409.8 1023.1,414 1023.5,416.7C1023.9,419.5 1024.4,422.3 1024.6,425C1024.8,427.8 1024.8,430.6 1024.5,433.3C1024.3,436.1 1023.8,438.8 1023.3,441.6C1022.8,444.4 1021.9,448.5 1021.7,449.9 M1036.2,363.2C1036.4,364.6 1037.2,368.7 1037.4,371.5C1037.7,374.3 1037.8,377 1037.8,379.8C1037.7,382.5 1037.4,385.3 1037.1,388.1C1036.8,390.8 1036.2,393.6 1036,396.4C1035.7,399.1 1035.5,403.3 1035.5,404.6 M1035.6,408.5C1035.8,409.8 1036.3,414 1036.8,416.7C1037.3,419.5 1038.1,422.3 1038.6,425C1039.2,427.8 1039.7,430.6 1040,433.3C1040.3,436.1 1040.4,438.8 1040.3,441.6C1040.3,444.4 1039.9,448.5 1039.8,449.9 M1044.3,363.2C1044.6,364.6 1045.7,368.7 1046.1,371.5C1046.4,374.3 1046.6,377 1046.6,379.8C1046.6,382.5 1046.3,385.3 1046.2,388.1C1046.1,390.8 1045.8,393.6 1045.8,396.4C1045.9,399.1 1046.2,403.3 1046.3,404.6 M1046.8,408.5C1047,409.8 1047.8,414 1048.2,416.7C1048.6,419.5 1049.1,422.3 1049.3,425C1049.5,427.8 1049.5,430.6 1049.2,433.3C1049,436.1 1048.5,438.8 1048,441.6C1047.5,444.4 1046.6,448.5 1046.4,449.9 M1060.8,363.2C1061,364.6 1061.8,368.7 1062,371.5C1062.3,374.3 1062.4,377 1062.4,379.8C1062.3,382.5 1062,385.3 1061.7,388.1C1061.4,390.8 1060.8,393.6 1060.5,396.4C1060.3,399.1 1060.1,403.3 1060,404.6 M1060.2,408.5C1060.4,409.8 1060.9,414 1061.4,416.7C1061.9,419.5 1062.6,422.3 1063.1,425C1063.7,427.8 1064.2,430.6 1064.5,433.3C1064.8,436.1 1064.9,438.8 1064.8,441.6C1064.8,444.4 1064.4,448.5 1064.3,449.9 M1068.9,363.2C1069.2,364.6 1070.3,368.7 1070.7,371.5C1071,374.3 1071.1,377 1071.2,379.8C1071.2,382.5 1070.9,385.3 1070.8,388.1C1070.6,390.8 1070.4,393.6 1070.4,396.4C1070.4,399.1 1070.8,403.3 1070.8,404.6 M1071.3,408.5C1071.6,409.8 1072.3,414 1072.8,416.7C1073.2,419.5 1073.7,422.3 1073.8,425C1074,427.8 1074,430.6 1073.8,433.3C1073.5,436.1 1073,438.8 1072.5,441.6C1072,444.4 1071.1,448.5 1070.9,449.9 M1085.2,363.2C1085.3,364.6 1085.8,368.7 1085.9,371.5C1086.1,374.3 1086,377 1085.8,379.8C1085.6,382.5 1085.1,385.3 1084.7,388.1C1084.2,390.8 1083.5,393.6 1083.1,396.4C1082.6,399.1 1082.2,403.3 1082.1,404.6 M1082,408.5C1082.1,409.8 1082.4,414 1082.7,416.7C1083.1,419.5 1083.7,422.3 1084.1,425C1084.4,427.8 1084.8,430.6 1085,433.3C1085.1,436.1 1085,438.8 1084.8,441.6C1084.6,444.4 1084,448.5 1083.8,449.9 M1093.3,363.2C1093.6,364.6 1094.4,368.7 1094.6,371.5C1094.8,374.3 1094.8,377 1094.6,379.8C1094.5,382.5 1094,385.3 1093.8,388.1C1093.5,390.8 1093.1,393.6 1092.9,396.4C1092.8,399.1 1092.9,403.3 1092.9,404.6 M1093.2,408.5C1093.3,409.8 1093.9,414 1094.1,416.7C1094.4,419.5 1094.7,422.3 1094.7,425C1094.8,427.8 1094.6,430.6 1094.2,433.3C1093.8,436.1 1093.1,438.8 1092.5,441.6C1091.8,444.4 1090.7,448.5 1090.4,449.9 M1109.6,363.2C1109.7,364.6 1110.3,368.7 1110.4,371.5C1110.5,374.3 1110.5,377 1110.3,379.8C1110.1,382.5 1109.7,385.3 1109.2,388.1C1108.8,390.8 1108.1,393.6 1107.7,396.4C1107.3,399.1 1106.9,403.3 1106.8,404.6 M1106.7,408.5C1106.8,409.8 1107.1,414 1107.5,416.7C1107.9,419.5 1108.5,422.3 1108.9,425C1109.3,427.8 1109.7,430.6 1109.8,433.3C1110,436.1 1109.9,438.8 1109.8,441.6C1109.6,444.4 1109,448.5 1108.8,449.9 M1117.7,363.2C1118,364.6 1118.8,368.7 1119,371.5C1119.3,374.3 1119.3,377 1119.1,379.8C1119,382.5 1118.6,385.3 1118.3,388.1C1118.1,390.8 1117.7,393.6 1117.6,396.4C1117.4,399.1 1117.6,403.3 1117.6,404.6 M1117.9,408.5C1118.1,409.8 1118.6,414 1118.9,416.7C1119.2,419.5 1119.5,422.3 1119.6,425C1119.6,427.8 1119.4,430.6 1119.1,433.3C1118.7,436.1 1118,438.8 1117.4,441.6C1116.8,444.4 1115.7,448.5 1115.4,449.9 M1134.1,363.2C1134.2,364.6 1134.8,368.7 1135,371.5C1135.1,374.3 1135.1,377 1134.9,379.8C1134.8,382.5 1134.3,385.3 1133.9,388.1C1133.4,390.8 1132.8,393.6 1132.4,396.4C1132,399.1 1131.6,403.3 1131.5,404.6 M1131.5,408.5C1131.6,409.8 1131.9,414 1132.3,416.7C1132.7,419.5 1133.3,422.3 1133.7,425C1134.1,427.8 1134.6,430.6 1134.8,433.3C1134.9,436.1 1134.9,438.8 1134.7,441.6C1134.6,444.4 1134,448.5 1133.8,449.9 M1142.2,363.2C1142.5,364.6 1143.3,368.7 1143.6,371.5C1143.8,374.3 1143.8,377 1143.7,379.8C1143.6,382.5 1143.2,385.3 1143,388.1C1142.7,390.8 1142.4,393.6 1142.3,396.4C1142.1,399.1 1142.3,403.3 1142.3,404.6 M1142.7,408.5C1142.8,409.8 1143.4,414 1143.7,416.7C1144,419.5 1144.4,422.3 1144.4,425C1144.5,427.8 1144.3,430.6 1144,433.3C1143.7,436.1 1143,438.8 1142.4,441.6C1141.8,444.4 1140.7,448.5 1140.4,449.9 M1159.6,363.2C1159.8,364.6 1160.5,368.7 1160.7,371.5C1160.9,374.3 1161,377 1160.9,379.8C1160.8,382.5 1160.4,385.3 1160.1,388.1C1159.7,390.8 1159.2,393.6 1158.8,396.4C1158.5,399.1 1158.3,403.3 1158.2,404.6 M1158.3,408.5C1158.5,409.8 1158.9,414 1159.4,416.7C1159.8,419.5 1160.5,422.3 1161,425C1161.5,427.8 1162,430.6 1162.3,433.3C1162.5,436.1 1162.5,438.8 1162.5,441.6C1162.4,444.4 1161.9,448.5 1161.8,449.9 M1167.7,363.2C1168,364.6 1169,368.7 1169.3,371.5C1169.7,374.3 1169.7,377 1169.7,379.8C1169.7,382.5 1169.4,385.3 1169.2,388.1C1169,390.8 1168.7,393.6 1168.7,396.4C1168.7,399.1 1169,403.3 1169,404.6 M1169.5,408.5C1169.7,409.8 1170.4,414 1170.8,416.7C1171.1,419.5 1171.6,422.3 1171.7,425C1171.8,427.8 1171.8,430.6 1171.5,433.3C1171.3,436.1 1170.7,438.8 1170.1,441.6C1169.6,444.4 1168.7,448.5 1168.4,449.9 M1185.1,363.2C1185.3,364.6 1186,368.7 1186.2,371.5C1186.5,374.3 1186.6,377 1186.5,379.8C1186.4,382.5 1186.1,385.3 1185.7,388.1C1185.4,390.8 1184.8,393.6 1184.5,396.4C1184.2,399.1 1184,403.3 1183.9,404.6 M1184,408.5C1184.2,409.8 1184.7,414 1185.2,416.7C1185.6,419.5 1186.4,422.3 1186.9,425C1187.4,427.8 1187.9,430.6 1188.2,433.3C1188.4,436.1 1188.5,438.8 1188.4,441.6C1188.4,444.4 1187.9,448.5 1187.8,449.9 M1193.2,363.2C1193.5,364.6 1194.5,368.7 1194.9,371.5C1195.2,374.3 1195.3,377 1195.3,379.8C1195.3,382.5 1195,385.3 1194.8,388.1C1194.7,390.8 1194.4,393.6 1194.4,396.4C1194.4,399.1 1194.7,403.3 1194.7,404.6 M1195.2,408.5C1195.4,409.8 1196.2,414 1196.6,416.7C1197,419.5 1197.4,422.3 1197.6,425C1197.7,427.8 1197.7,430.6 1197.4,433.3C1197.2,436.1 1196.6,438.8 1196.1,441.6C1195.6,444.4 1194.6,448.5 1194.4,449.9 M1209.3,363.2C1209.5,364.6 1210.2,368.7 1210.4,371.5C1210.7,374.3 1210.8,377 1210.7,379.8C1210.6,382.5 1210.3,385.3 1210,388.1C1209.6,390.8 1209.1,393.6 1208.8,396.4C1208.5,399.1 1208.3,403.3 1208.2,404.6 M1208.3,408.5C1208.5,409.8 1209,414 1209.4,416.7C1209.9,419.5 1210.6,422.3 1211.1,425C1211.7,427.8 1212.2,430.6 1212.5,433.3C1212.7,436.1 1212.8,438.8 1212.7,441.6C1212.7,444.4 1212.2,448.5 1212.1,449.9 M1217.4,363.2C1217.7,364.6 1218.7,368.7 1219.1,371.5C1219.4,374.3 1219.5,377 1219.5,379.8C1219.5,382.5 1219.2,385.3 1219.1,388.1C1218.9,390.8 1218.6,393.6 1218.6,396.4C1218.6,399.1 1218.9,403.3 1219,404.6 M1219.5,408.5C1219.7,409.8 1220.4,414 1220.8,416.7C1221.2,419.5 1221.7,422.3 1221.8,425C1222,427.8 1221.9,430.6 1221.7,433.3C1221.5,436.1 1220.9,438.8 1220.4,441.6C1219.9,444.4 1218.9,448.5 1218.7,449.9 M1233.8,363.2C1234,364.6 1234.7,368.7 1235,371.5C1235.2,374.3 1235.4,377 1235.3,379.8C1235.3,382.5 1234.9,385.3 1234.6,388.1C1234.3,390.8 1233.7,393.6 1233.5,396.4C1233.2,399.1 1233,403.3 1232.9,404.6 M1233.1,408.5C1233.3,409.8 1233.7,414 1234.2,416.7C1234.7,419.5 1235.5,422.3 1236,425C1236.5,427.8 1237.1,430.6 1237.4,433.3C1237.6,436.1 1237.7,438.8 1237.7,441.6C1237.6,444.4 1237.2,448.5 1237.1,449.9 M1241.9,363.2C1242.2,364.6 1243.3,368.7 1243.6,371.5C1244,374.3 1244.1,377 1244.1,379.8C1244.1,382.5 1243.8,385.3 1243.7,388.1C1243.6,390.8 1243.3,393.6 1243.3,396.4C1243.3,399.1 1243.7,403.3 1243.7,404.6 M1244.2,408.5C1244.5,409.8 1245.2,414 1245.6,416.7C1246.1,419.5 1246.5,422.3 1246.7,425C1246.9,427.8 1246.8,430.6 1246.6,433.3C1246.4,436.1 1245.8,438.8 1245.3,441.6C1244.8,444.4 1243.9,448.5 1243.7,449.9 M1258.4,363.2C1258.6,364.6 1259.3,368.7 1259.6,371.5C1259.9,374.3 1260,377 1259.9,379.8C1259.9,382.5 1259.5,385.3 1259.2,388.1C1258.9,390.8 1258.4,393.6 1258.1,396.4C1257.8,399.1 1257.6,403.3 1257.6,404.6 M1257.7,408.5C1257.9,409.8 1258.4,414 1258.9,416.7C1259.4,419.5 1260.2,422.3 1260.7,425C1261.2,427.8 1261.8,430.6 1262,433.3C1262.3,436.1 1262.4,438.8 1262.4,441.6C1262.3,444.4 1261.9,448.5 1261.8,449.9 M1266.5,363.2C1266.8,364.6 1267.9,368.7 1268.2,371.5C1268.6,374.3 1268.7,377 1268.7,379.8C1268.8,382.5 1268.5,385.3 1268.3,388.1C1268.2,390.8 1268,393.6 1268,396.4C1268,399.1 1268.3,403.3 1268.4,404.6 M1268.9,408.5C1269.1,409.8 1269.9,414 1270.3,416.7C1270.7,419.5 1271.2,422.3 1271.4,425C1271.5,427.8 1271.5,430.6 1271.3,433.3C1271.1,436.1 1270.5,438.8 1270,441.6C1269.5,444.4 1268.6,448.5 1268.4,449.9" fill="none" stroke="#000" stroke-width="2" stroke-linecap="round"/>
<path d="M1269.3,362L1271,449" stroke="#000" stroke-width="2.6"/>
<circle cx="990.2" cy="351.9" r="11.6" fill="#fff" stroke="#000" stroke-width="2.5"/>
<circle cx="1014.9" cy="351.9" r="11.6" fill="#fff" stroke="#000" stroke-width="2.5"/>
<circle cx="1039.6" cy="351.9" r="11.6" fill="#fff" stroke="#000" stroke-width="2.5"/>
<circle cx="1064.2" cy="351.9" r="11.6" fill="#fff" stroke="#000" stroke-width="2.5"/>
<circle cx="1088.6" cy="351.9" r="11.6" fill="#fff" stroke="#000" stroke-width="2.5"/>
<circle cx="993.5" cy="461.2" r="11.6" fill="#fff" stroke="#000" stroke-width="2.5"/>
<circle cx="1018.3" cy="461.2" r="11.6" fill="#fff" stroke="#000" stroke-width="2.5"/>
<circle cx="1043" cy="461.2" r="11.6" fill="#fff" stroke="#000" stroke-width="2.5"/>
<circle cx="1067.5" cy="461.2" r="11.6" fill="#fff" stroke="#000" stroke-width="2.5"/>
<circle cx="1087" cy="461.2" r="11.6" fill="#fff" stroke="#000" stroke-width="2.5"/>
<circle cx="1188.5" cy="351.9" r="11.6" fill="#fff" stroke="#000" stroke-width="2.5"/>
<circle cx="1212.7" cy="351.9" r="11.6" fill="#fff" stroke="#000" stroke-width="2.5"/>
<circle cx="1237.2" cy="351.9" r="11.6" fill="#fff" stroke="#000" stroke-width="2.5"/>
<circle cx="1261.8" cy="351.9" r="11.6" fill="#fff" stroke="#000" stroke-width="2.5"/>
<circle cx="1191" cy="461.2" r="11.6" fill="#fff" stroke="#000" stroke-width="2.5"/>
<circle cx="1215.3" cy="461.2" r="11.6" fill="#fff" stroke="#000" stroke-width="2.5"/>
<circle cx="1240.3" cy="461.2" r="11.6" fill="#fff" stroke="#000" stroke-width="2.5"/>
<circle cx="1265" cy="461.2" r="11.6" fill="#fff" stroke="#000" stroke-width="2.5"/>
<path d="M1121.5,532 C1124,541 1131,544.5 1138,543.5 C1141,543 1143,542.8 1145,542.5 C1149,547.5 1154,549.5 1159.5,549 C1165,548.5 1170,546 1173.5,542.5 C1175,543.3 1176,543.5 1177,543.5 C1184,543.5 1189,539 1190.5,532 L1180,520 H1132 Z" fill="#fff"/>
<path d="M1121.5,530 C1124,541 1131,544.5 1138,543.5 C1145,542.5 1150,538 1152.5,533 M1145,542.5 C1149,547.5 1154,549.5 1159.5,549 C1165,548.5 1170,546 1173.5,542.5 M1161,533 C1164,539.5 1170,543.5 1177,543.5 C1184,543.5 1189,539 1190.5,530" fill="none" stroke="#000" stroke-width="2.5"/>
<ellipse cx="1122" cy="480" rx="27" ry="40" fill="#fff" stroke="#000" stroke-width="2.5"/>
<path d="M1110.5,378 C1110,400 1107.5,425 1103.5,445 C1101.5,455 1101.8,462 1102.6,467.5" fill="none" stroke="#000" stroke-width="7.4" stroke-linecap="round"/>
<path d="M1110.5,378 C1110,400 1107.5,425 1103.5,445 C1101.5,455 1101.8,462 1102.6,467.5" fill="none" stroke="#fff" stroke-width="3" stroke-linecap="round"/>
<path d="M1104,344 C1103.5,380 1101,420 1095.5,448 C1092.5,464 1093.5,477 1097.2,481.2" fill="none" stroke="#000" stroke-width="9.8" stroke-linecap="round"/>
<path d="M1104,344 C1103.5,380 1101,420 1095.5,448 C1092.5,464 1093.5,477 1097.2,481.2" fill="none" stroke="#fff" stroke-width="5" stroke-linecap="round"/>
<path d="M1108.4,384 V336 C1108.6,325 1116,318 1129,316.2 L1136,316 L1136,402.3 C1123,402.5 1110,398 1108.4,384 Z" fill="#fff" stroke="#000" stroke-width="2.5"/>
<ellipse cx="1143.5" cy="480" rx="32.5" ry="58" fill="#fff" stroke="#000" stroke-width="2.5"/>
<ellipse cx="1174.5" cy="480" rx="32.5" ry="58" fill="#fff" stroke="#000" stroke-width="2.5"/>
<rect x="1146.5" y="403" width="19" height="19" fill="#fff"/>
<path d="M1146.5,403V421 M1165.5,403V421" stroke="#000" stroke-width="2.5"/>
<path d="M1130.5,393.5 C1140,397.5 1148,397.5 1150,396.5 M1166,397.5 C1172,397.5 1180,395 1184.5,391.5" fill="none" stroke="#000" stroke-width="3.4" stroke-linecap="round"/>
<path d="M1133,398.3 C1140,400.5 1146,400.3 1149,399.5 M1166,400.5 C1172,400.3 1179,398 1183,395.5" fill="none" stroke="#000" stroke-width="1.6" stroke-linecap="round"/>
<ellipse cx="1157.3" cy="399.6" rx="9" ry="5.2" fill="#fff" stroke="#000" stroke-width="2.5"/>
<path d="M1136,392 V317 C1136,314 1138,313 1141,312.8 C1152,311.2 1170,311.3 1179,313.4 C1183,314.5 1184.6,316.5 1184.6,321 V392 Z" fill="#fff" stroke="none"/>
<path d="M1129,316.5 L1136,315.6 C1137,313.6 1139,313 1141,312.8 C1152,311.2 1170,311.3 1179,313.4 C1183,314.5 1184.6,316.5 1184.6,321" fill="none" stroke="#000" stroke-width="3"/>
<path d="M1128.6,317V372 C1128.6,382 1130,389 1133,393.5" fill="none" stroke="#000" stroke-width="4"/>
<path d="M1183.2,319V390" fill="none" stroke="#000" stroke-width="4.8"/>
<path d="M1136.6,315V383 C1137,389 1140.5,391.5 1143,391.5 C1146,391.5 1149.3,389 1149.3,383 V313 M1149.3,383 C1149.5,389 1153,392 1156,392 C1159,392 1162.2,389 1162.2,383 V312.5 M1162.2,383 C1162.5,389 1165.5,391.5 1168,391.5 C1171,391.5 1173.5,389 1173.5,383 V313.5 M1173.5,383 C1174,388 1176,390.5 1178.5,390.5 C1180.5,390.5 1181.5,389 1181.8,386" fill="none" stroke="#000" stroke-width="2.7"/>
<ellipse cx="1157" cy="474.8" rx="33" ry="56.3" fill="#fff" stroke="#000" stroke-width="2.5"/>
<circle cx="648.3" cy="360.7" r="15" fill="#fff"/><circle cx="889" cy="360.7" r="15.3" fill="#fff"/>
<g fill="#bbbbc6">
<path d="M322.3,258 L346,292.4 H329.7 V557.5 H314.9 V292.4 H298.6 Z"/>
<path d="M658.7,265.5 L682.5,299.7 H666 V564.6 H651.4 V299.7 H634.9 Z"/>
<path d="M896.2,258 L920,291.8 H903.6 V557.5 H888.8 V291.8 H872.4 Z"/>
<rect x="1129.5" y="282.4" width="9.5" height="30.6"/>
<path d="M1129.5,546 H1139 V591.4 H1150.8 L1134.4,618.3 L1117.5,591.4 H1129.5 Z"/>
</g>
<rect x="1129.5" y="313" width="9.5" height="233" fill="#bbbbc6" style="mix-blend-mode:multiply"/>
<path d="M283.5,344C286.5,341.2 290.9,337.2 295,335C299.1,332.8 303.8,331.6 308,330.7C312.2,329.8 315.5,329.6 320,329.7C324.5,329.8 330.2,329.9 335,331.2C339.8,332.5 345,334.8 349,337.5C353,340.2 356.4,343.8 359,347.5C361.6,351.2 363.1,354.2 364.5,360C365.9,365.8 366.9,372 367.3,382C367.7,392 367,407.8 366.6,420C366.2,432.2 366,447.8 364.7,455C363.4,462.2 361.2,461.2 359,463.5C356.8,465.8 356.2,467.2 351.4,469C346.6,470.8 335.7,472.4 330,474.3C324.3,476.2 319.9,477.9 317,480.7C314.1,483.5 313.7,486.5 312.8,491.4C311.9,496.3 311.8,503.1 311.7,510C311.6,516.9 312.9,525.8 312.5,532.8C312.1,539.8 311.3,546.7 309.3,552.1C307.3,557.5 303.6,561.6 300.7,565C297.8,568.4 295.3,570 292.1,572.5C288.9,575 284.8,578.5 281.4,580C278,581.5 275,581.5 271.8,581.7C268.6,581.9 266.3,582.7 262,581C257.7,579.3 250.4,575.9 246,571.4C241.6,566.9 237.6,560.7 235.3,554.3C233,547.9 232.4,539.7 232.1,532.8C231.8,525.9 231.5,519 233.5,513C235.5,507 239,501.3 244,497C249,492.7 258.2,490.8 263.5,487C268.8,483.2 273.4,479.3 276,474.5C278.6,469.7 278.9,465.4 279.3,458C279.7,450.6 278.7,439.7 278.2,430C277.7,420.3 277,410 276.4,400C275.8,390 274.5,378 274.6,370C274.7,362 275.5,356.3 277,352C278.5,347.7 280.5,346.8 283.5,344Z" fill="none" stroke="#000" stroke-width="2.5"/>
<path d="M606,368.5C606,363.7 605.1,356.1 603.9,351.4C602.6,346.6 599.7,343.3 598.5,340C597.3,336.7 596.2,334.4 596.8,331.8C597.4,329.2 599.1,326.3 602.1,324.3C605.1,322.3 610.7,320.2 615,319.6C619.3,319.1 622.8,319.9 627.8,321C632.8,322.1 639.6,325 645,326C650.4,327 654.6,327.2 660,326.8C665.4,326.4 672.1,324.8 677.1,323.8C682.1,322.8 685,321.3 690,321C695,320.7 701.9,321.7 707.1,322.1C712.3,322.5 720,321.7 721,323.3C722,324.9 715.6,328.6 713.4,331.9C711.1,335.2 708.8,339.4 707.5,343C706.2,346.6 705.9,349.5 705.7,353.7C705.5,357.9 706.1,363.3 706.5,368C706.9,372.7 707.5,377 708.3,382C709.1,387 710.4,392.9 711.5,398C712.6,403.1 714,406.1 714.7,412.8C715.5,419.6 716,432 716,438.5C716,445 714.9,447.7 714.5,452C714.1,456.3 712.7,460 713.4,464.2C714.1,468.4 716.6,473.5 718.6,477C720.6,480.5 723,482.2 725.5,485C728,487.8 732.5,490.5 733.9,494C735.3,497.5 735.5,500.9 733.9,506C732.3,511.1 728.7,517.7 724.2,524.3C719.7,530.9 712.5,541.2 707.1,545.7C701.8,550.2 697.5,550.6 692.1,551C686.8,551.4 680.5,548.7 675,547.8C669.5,546.9 664.3,545.5 658.9,545.7C653.5,545.9 648.3,547.9 642.8,548.9C637.3,549.9 631.4,552.1 625.7,551.7C620,551.4 614,549.9 608.6,546.8C603.2,543.6 597.7,538.7 593.6,532.8C589.5,526.9 585.5,517.8 583.9,511.4C582.3,505 582.7,498.9 583.9,494.3C585.1,489.7 588.6,486.9 591,484C593.4,481.1 596.1,479.8 598.5,477C600.9,474.2 603.9,470.4 605.5,467.5C607.1,464.6 607.6,462.8 607.9,459.5C608.2,456.2 607.9,452.1 607.3,448C606.7,443.9 605.3,440.4 604.1,435C602.9,429.6 601.1,421 600.2,415.7C599.3,410.4 598.9,407.3 598.9,403C598.9,398.7 599.6,393.8 600.5,390C601.4,386.2 603.1,383.6 604,380C604.9,376.4 606,373.3 606,368.5Z" fill="none" stroke="#000" stroke-width="2.5"/>
<path d="M812.8,329.6C816.7,326.5 823.8,327.8 830,327C836.2,326.2 844.6,325.3 850,325C855.4,324.7 857.6,324.2 862.1,325.3C866.6,326.4 872.5,330 877.1,331.8C881.8,333.6 885.7,335.2 890,336C894.3,336.8 898.5,337.4 902.8,336.7C907.1,336 910.7,333.5 915.7,331.8C920.7,330.1 927.1,327.5 932.8,326.4C938.5,325.3 944.3,324.9 950,325.3C955.7,325.7 962.1,327.4 967.1,328.6C972.1,329.9 976.8,331 980,332.8C983.2,334.6 985.1,334.8 986.4,339.3C987.7,343.8 987.9,349.9 988,360C988.1,370.1 987.4,383.7 987,400C986.6,416.3 985.6,445.7 985.6,457.8C985.6,469.9 986.2,467.4 986.7,472.8C987.2,478.2 988.9,485.2 988.9,490C988.9,494.8 988.3,498.8 986.7,501.8C985.1,504.8 983,506.4 979.2,508.2C975.5,510 969.6,511.8 964.2,512.5C958.9,513.2 952.8,513 947.1,512.5C941.4,512 935.7,510.9 930,509.7C924.3,508.4 918.2,506.1 912.8,505C907.4,503.9 902.8,502.8 897.8,502.8C892.8,502.8 888.1,503.8 882.8,505C877.4,506.2 872.1,508.5 865.7,510.3C859.3,512.1 851.4,514.8 844.3,515.7C837.1,516.6 828.9,516.8 822.8,515.7C816.7,514.6 811.4,512.1 807.8,509.3C804.2,506.4 802.3,502.2 801.4,498.6C800.5,495 801.2,492.1 802.5,487.8C803.8,483.5 807.3,478.9 808.9,472.8C810.5,466.7 811.9,458.5 812.1,451.4C812.3,444.3 811.1,436.2 810,430C808.9,423.8 806.6,421.6 805.3,414.3C804,407 802.5,395 802.1,386.4C801.8,377.8 802.5,369.6 803.2,362.8C803.9,356 804.8,351.2 806.4,345.7C808,340.2 808.9,332.7 812.8,329.6Z" fill="none" stroke="#000" stroke-width="2.5"/>
<circle cx="272.8" cy="351.9" r="11.6" fill="#fff" stroke="#000" stroke-width="2.5"/>
<circle cx="276.2" cy="461.2" r="11.6" fill="#fff" stroke="#000" stroke-width="2.5"/>
<circle cx="722.5" cy="351.9" r="11.6" fill="#fff" stroke="#000" stroke-width="2.5"/>
<circle cx="726" cy="461.2" r="11.6" fill="#fff" stroke="#000" stroke-width="2.5"/>
<circle cx="795" cy="351.9" r="11.6" fill="#fff" stroke="#000" stroke-width="2.5"/>
<circle cx="797.3" cy="461.2" r="11.6" fill="#fff" stroke="#000" stroke-width="2.5"/>
<circle cx="990.2" cy="351.9" r="11.6" fill="#fff" stroke="#000" stroke-width="2.5"/>
<circle cx="993.5" cy="461.2" r="11.6" fill="#fff" stroke="#000" stroke-width="2.5"/>
<circle cx="648.3" cy="360.7" r="15" fill="none" stroke="#000" stroke-width="2.5"/>
<text x="647.6" y="366.3" font-family="'Liberation Sans'" font-size="20.5" font-weight="normal" text-anchor="middle" >e</text>
<path d="M653.1,353.9 h5.8" stroke="#000" stroke-width="1.25"/>
<circle cx="889" cy="360.7" r="15.3" fill="none" stroke="#000" stroke-width="2.5"/>
<text x="888.3" y="366.3" font-family="'Liberation Sans'" font-size="20.5" font-weight="normal" text-anchor="middle" >e</text>
<path d="M893.8,353.9 h5.8" stroke="#000" stroke-width="1.25"/>
<path d="M276,604C276.1,600.8 275.9,594 276.6,585C277.4,576 278.3,562.3 280.5,550C282.7,537.7 287.1,521.4 290,511.4C292.9,501.4 294.8,497.1 298,490C301.2,482.9 305,475.8 309,469C313,462.2 319.8,452.3 322,449" fill="none" stroke="#000" stroke-width="10" stroke-linecap="round"/>
<path d="M276,604C276.4,601.7 276.6,594.2 278.5,590C280.4,585.8 283.9,582 287.5,579C291.1,576 295.3,573.4 300,571.8C304.7,570.2 310,568.8 315.7,569.2C321.4,569.6 328.8,571.7 334,574.3C339.2,576.9 343.9,581.5 347,585C350.1,588.5 351.1,591.9 352.5,595C353.9,598.1 355.1,602.2 355.6,603.6" fill="none" stroke="#000" stroke-width="11.6" stroke-linecap="round"/>
<path d="M337,427.5C342.5,423.8 359.1,411.1 370,405.2C380.9,399.3 391.4,395.6 402.1,392.3C412.8,389 425.9,387 434.3,385.5C442.7,384 449.3,383.8 452.3,383.5" fill="none" stroke="#000" stroke-width="10" stroke-linecap="butt"/>
<path d="M521,386C525,385.9 536.8,385.9 545,385.5C553.2,385.1 561.7,384 570,383.6C578.3,383.2 587.7,383.2 595,383C602.3,382.8 610.8,382.6 614,382.5" fill="none" stroke="#000" stroke-width="10.2" stroke-linecap="butt"/>
<path d="M661.5,349.7 L703,329.7" fill="none" stroke="#000" stroke-width="10.2" stroke-linecap="butt"/>
<path d="M788,324C792,324.1 804.3,324.2 812,324.8C819.7,325.4 827.7,326.2 834,327.5C840.3,328.8 845.6,330.9 850,332.5C854.4,334.1 858.8,336.5 860.5,337.3" fill="none" stroke="#000" stroke-width="10.2" stroke-linecap="butt"/>
<path d="M276,604C276.1,600.8 275.9,594 276.6,585C277.4,576 278.3,562.3 280.5,550C282.7,537.7 287.1,521.4 290,511.4C292.9,501.4 294.8,497.1 298,490C301.2,482.9 305,475.8 309,469C313,462.2 319.8,452.3 322,449" fill="none" stroke="#fff" stroke-width="5.2" stroke-linecap="round"/>
<path d="M276,604C276.4,601.7 276.6,594.2 278.5,590C280.4,585.8 283.9,582 287.5,579C291.1,576 295.3,573.4 300,571.8C304.7,570.2 310,568.8 315.7,569.2C321.4,569.6 328.8,571.7 334,574.3C339.2,576.9 343.9,581.5 347,585C350.1,588.5 351.1,591.9 352.5,595C353.9,598.1 355.1,602.2 355.6,603.6" fill="none" stroke="#fff" stroke-width="6.8" stroke-linecap="round"/>
<path d="M337,427.5C342.5,423.8 359.1,411.1 370,405.2C380.9,399.3 391.4,395.6 402.1,392.3C412.8,389 425.9,387 434.3,385.5C442.7,384 449.3,383.8 452.3,383.5" fill="none" stroke="#fff" stroke-width="5.2" stroke-linecap="butt"/>
<path d="M521,386C525,385.9 536.8,385.9 545,385.5C553.2,385.1 561.7,384 570,383.6C578.3,383.2 587.7,383.2 595,383C602.3,382.8 610.8,382.6 614,382.5" fill="none" stroke="#fff" stroke-width="5.4" stroke-linecap="butt"/>
<path d="M661.5,349.7 L703,329.7" fill="none" stroke="#fff" stroke-width="5.4" stroke-linecap="butt"/>
<path d="M788,324C792,324.1 804.3,324.2 812,324.8C819.7,325.4 827.7,326.2 834,327.5C840.3,328.8 845.6,330.9 850,332.5C854.4,334.1 858.8,336.5 860.5,337.3" fill="none" stroke="#fff" stroke-width="5.4" stroke-linecap="butt"/>
<polygon points="341.9,596.6 359.5,621.8 366.7,591.5 355.6,603.6" fill="#fff" stroke="#000" stroke-width="2.6" stroke-linejoin="miter" stroke-miterlimit="8"/>
<polygon points="441.7,371 470.2,382.3 442.2,395.4 452.3,383.4" fill="#fff" stroke="#000" stroke-width="2.6" stroke-linejoin="miter" stroke-miterlimit="8"/>
<polygon points="599.8,371.6 631.8,372.2 611.2,394.5 615,382.5" fill="#fff" stroke="#000" stroke-width="2.6" stroke-linejoin="miter" stroke-miterlimit="8"/>
<polygon points="692,321.8 718.6,324.3 700.2,342.1 703.9,331.8" fill="#fff" stroke="#000" stroke-width="2.6" stroke-linejoin="miter" stroke-miterlimit="8"/>
<polygon points="859.9,324.3 874.7,347.5 846.4,342.3 861,337.1" fill="#fff" stroke="#000" stroke-width="2.6" stroke-linejoin="miter" stroke-miterlimit="8"/>
<path d="M855.5,565C855.7,563.2 855.6,557.9 856.5,554C857.4,550.1 858.2,546.1 860.8,541.4C863.4,536.7 867.6,529.7 872.2,525.8C876.8,521.9 882.9,519.2 888.2,517.8C893.6,516.3 898.9,516.4 904.3,517.1C909.6,517.8 915.7,519.6 920.3,522.1C924.9,524.6 928.9,528.6 932.1,532.2C935.3,535.8 937.5,540.4 939.5,543.5C941.5,546.6 943.2,549.8 944,551" fill="none" stroke="#000" stroke-width="11.4" stroke-linecap="round"/>
<path d="M855.5,565C855.7,563.2 855.6,557.9 856.5,554C857.4,550.1 858.2,546.1 860.8,541.4C863.4,536.7 867.6,529.7 872.2,525.8C876.8,521.9 882.9,519.2 888.2,517.8C893.6,516.3 898.9,516.4 904.3,517.1C909.6,517.8 915.7,519.6 920.3,522.1C924.9,524.6 928.9,528.6 932.1,532.2C935.3,535.8 937.5,540.4 939.5,543.5C941.5,546.6 943.2,549.8 944,551" fill="none" stroke="#fff" stroke-width="6.6" stroke-linecap="round"/>
<path d="M905.6,377.6C906.9,379.8 910.4,385.4 913.5,391C916.6,396.6 921.5,404.5 924.2,411C927,417.5 928.4,425.2 930,430C931.6,434.8 932.2,432.9 933.9,440C935.6,447.1 938.4,460.2 940.1,472.8C941.8,485.4 943.3,501.7 944.2,515.7C945.1,529.7 945.2,550.1 945.4,557" fill="none" stroke="#000" stroke-width="11.4" stroke-linecap="butt"/>
<circle cx="905.6" cy="377.6" r="5.7" fill="#000"/>
<circle cx="905.6" cy="377.6" r="3.3" fill="#fff"/>
<path d="M905.6,377.6C906.9,379.8 910.4,385.4 913.5,391C916.6,396.6 921.5,404.5 924.2,411C927,417.5 928.4,425.2 930,430C931.6,434.8 932.2,432.9 933.9,440C935.6,447.1 938.4,460.2 940.1,472.8C941.8,485.4 943.3,501.7 944.2,515.7C945.1,529.7 945.2,550.1 945.4,557" fill="none" stroke="#fff" stroke-width="6.6" stroke-linecap="butt"/>
<polygon points="934,550.6 947.7,574.5 956.8,547.8 945.4,557.8" fill="#fff" stroke="#000" stroke-width="2.6" stroke-linejoin="miter" stroke-miterlimit="8"/>
<path d="M490.5,463C489.8,468.1 488.5,484 486.3,493.6C484.1,503.2 480.7,512.5 477.1,520.4C473.6,528.3 468.7,535.1 465,541C461.3,546.9 457.4,550.9 455,556C452.6,561.1 451.1,568.9 450.3,571.5" fill="none" stroke="#000" stroke-width="10" stroke-linecap="round"/>
<path d="M450.3,571.5C450.8,569 450.8,561.7 453.4,556.8C456,551.9 460.6,545.5 466,542C471.4,538.5 479.1,536.1 485.7,535.6C492.2,535.1 499.4,536.2 505.3,539C511.2,541.8 517.2,548.2 521,552.5C524.8,556.8 526.3,561.2 528,565C529.7,568.8 530.8,573.3 531.4,575" fill="none" stroke="#000" stroke-width="11.6" stroke-linecap="round"/>
<path d="M491,434 L491,418" fill="none" stroke="#000" stroke-width="10.6" stroke-linecap="butt"/>
<path d="M1091.3,596C1091.8,592.9 1092.3,582.4 1094.6,577.3C1096.9,572.2 1101,568.3 1105.3,565.2C1109.6,562.1 1115.5,559.8 1120.6,558.6C1125.7,557.4 1130.8,557.2 1135.7,557.9C1140.6,558.6 1146.3,560.8 1150,563C1153.7,565.2 1156.1,568.2 1158,571C1159.9,573.8 1160.8,578.2 1161.4,579.6" fill="none" stroke="#000" stroke-width="11.4" stroke-linecap="round"/>
<path d="M490.5,463C489.8,468.1 488.5,484 486.3,493.6C484.1,503.2 480.7,512.5 477.1,520.4C473.6,528.3 468.7,535.1 465,541C461.3,546.9 457.4,550.9 455,556C452.6,561.1 451.1,568.9 450.3,571.5" fill="none" stroke="#fff" stroke-width="5.2" stroke-linecap="round"/>
<path d="M450.3,571.5C450.8,569 450.8,561.7 453.4,556.8C456,551.9 460.6,545.5 466,542C471.4,538.5 479.1,536.1 485.7,535.6C492.2,535.1 499.4,536.2 505.3,539C511.2,541.8 517.2,548.2 521,552.5C524.8,556.8 526.3,561.2 528,565C529.7,568.8 530.8,573.3 531.4,575" fill="none" stroke="#fff" stroke-width="6.8" stroke-linecap="round"/>
<path d="M491,434 L491,418" fill="none" stroke="#fff" stroke-width="5.8" stroke-linecap="butt"/>
<path d="M1091.3,596C1091.8,592.9 1092.3,582.4 1094.6,577.3C1096.9,572.2 1101,568.3 1105.3,565.2C1109.6,562.1 1115.5,559.8 1120.6,558.6C1125.7,557.4 1130.8,557.2 1135.7,557.9C1140.6,558.6 1146.3,560.8 1150,563C1153.7,565.2 1156.1,568.2 1158,571C1159.9,573.8 1160.8,578.2 1161.4,579.6" fill="none" stroke="#fff" stroke-width="6.6" stroke-linecap="round"/>
<polygon points="516.9,568.1 535.4,594.3 542.5,562.9 531.4,575" fill="#fff" stroke="#000" stroke-width="2.6" stroke-linejoin="miter" stroke-miterlimit="8"/>
<polygon points="478.2,426.7 491.4,399.6 503.8,427.5 491,417.5" fill="#fff" stroke="#000" stroke-width="2.6" stroke-linejoin="miter" stroke-miterlimit="8"/>
<polygon points="1166.6,564.9 1172.3,593.4 1148,578.5 1161.4,579.6" fill="#fff" stroke="#000" stroke-width="2.6" stroke-linejoin="miter" stroke-miterlimit="8"/>
<circle cx="332.1" cy="438" r="15.8" fill="#fff" stroke="#000" stroke-width="2.5"/>
<text x="331.4" y="443.6" font-family="'Liberation Sans'" font-size="20.5" font-weight="normal" text-anchor="middle" >e</text>
<path d="M336.9,431.2 h5.8" stroke="#000" stroke-width="1.25"/>
<circle cx="490.3" cy="448.1" r="14.8" fill="#fff" stroke="#000" stroke-width="2.5"/>
<text x="489.6" y="453.7" font-family="'Liberation Sans'" font-size="20.5" font-weight="normal" text-anchor="middle" >e</text>
<path d="M495.1,441.3 h5.8" stroke="#000" stroke-width="1.25"/>
<rect x="473.6" y="353" width="47.6" height="42.6" rx="14" ry="14" fill="#fff" stroke="#000" stroke-width="3.2"/>
<text x="496.5" y="382.3" font-family="'Liberation Serif'" font-size="20" font-weight="normal" text-anchor="middle" stroke="#000" stroke-width="0.5">CoQ</text>
<rect x="722.8" y="305.8" width="65.6" height="31.6" rx="15.8" ry="15.8" fill="#fff" stroke="#000" stroke-width="2.4"/>
<text x="756" y="327" font-family="'Liberation Serif'" font-size="15" font-weight="bold" text-anchor="middle" >CitC</text>
<path d="M416,282.5L331,351.5 M303.2,491.4L352.4,510.7" stroke="#000" stroke-width="1.4" fill="none"/>
<circle cx="323" cy="228.4" r="19.7" fill="#fff" stroke="#000" stroke-width="2.2"/>
<text x="321.2" y="239.7" font-family="'Liberation Sans'" font-size="30.5" font-weight="normal" text-anchor="middle" >H</text>
<path d="M331,216.9 h6 M334,213.9 v6" stroke="#000" stroke-width="1.3" fill="none"/>
<circle cx="660" cy="229.5" r="19.7" fill="#fff" stroke="#000" stroke-width="2.2"/>
<text x="658.2" y="240.8" font-family="'Liberation Sans'" font-size="30.5" font-weight="normal" text-anchor="middle" >H</text>
<path d="M668,218 h6 M671,215 v6" stroke="#000" stroke-width="1.3" fill="none"/>
<circle cx="896" cy="229.5" r="19.7" fill="#fff" stroke="#000" stroke-width="2.2"/>
<text x="894.2" y="240.8" font-family="'Liberation Sans'" font-size="30.5" font-weight="normal" text-anchor="middle" >H</text>
<path d="M904,218 h6 M907,215 v6" stroke="#000" stroke-width="1.3" fill="none"/>
<circle cx="1136" cy="253.6" r="19.7" fill="#fff" stroke="#000" stroke-width="2.2"/>
<text x="1134.2" y="264.9" font-family="'Liberation Sans'" font-size="30.5" font-weight="normal" text-anchor="middle" >H</text>
<path d="M1144,242.1 h6 M1147,239.1 v6" stroke="#000" stroke-width="1.3" fill="none"/>
<text x="320.8" y="397.2" font-family="'Liberation Serif'" font-size="20" font-weight="bold" text-anchor="middle" textLength="8.5" lengthAdjust="spacingAndGlyphs" stroke="#000" stroke-width="1.3">I</text>
<text x="658.9" y="422.3" font-family="'Liberation Serif'" font-size="20" font-weight="bold" text-anchor="middle" textLength="26.5" lengthAdjust="spacingAndGlyphs" stroke="#000" stroke-width="1.3">III</text>
<text x="898.1" y="422.2" font-family="'Liberation Serif'" font-size="20" font-weight="bold" text-anchor="middle" textLength="26" lengthAdjust="spacingAndGlyphs" stroke="#000" stroke-width="1.3">IV</text>
<text x="232.3" y="624.4" font-family="'Liberation Sans'" font-size="21.8" font-weight="bold" text-anchor="start" textLength="65.8" lengthAdjust="spacingAndGlyphs" stroke="#000" stroke-width="0.45">NADH</text>
<text x="336.2" y="636.4" font-family="'Liberation Sans'" font-size="15.6" font-weight="bold" text-anchor="start" textLength="37.4" lengthAdjust="spacingAndGlyphs" stroke="#000" stroke-width="0.45">NAD</text>
<path d="M372.2,621.2h10.8 M377.6,615.8v10.8" stroke="#000" stroke-width="2.3"/>
<text x="418.9" y="595" font-family="'Liberation Sans'" font-size="21.8" font-weight="bold" text-anchor="start" textLength="60.4" lengthAdjust="spacingAndGlyphs" stroke="#000" stroke-width="0.45">FADH</text>
<text x="479.3" y="601.5" font-family="'Liberation Sans'" font-size="15.5" font-weight="bold" text-anchor="start" textLength="10.4" lengthAdjust="spacingAndGlyphs" stroke="#000" stroke-width="0.45">2</text>
<text x="524" y="608.6" font-family="'Liberation Sans'" font-size="15.6" font-weight="bold" text-anchor="start" textLength="34.2" lengthAdjust="spacingAndGlyphs" stroke="#000" stroke-width="0.45">FAD</text>
<text x="743.2" y="602.4" font-family="'Liberation Serif'" font-size="39" font-weight="bold" text-anchor="start" textLength="20.8" lengthAdjust="spacingAndGlyphs" stroke="#000" stroke-width="0.6">2</text>
<circle cx="782.1" cy="588.7" r="18.8" fill="#fff" stroke="#000" stroke-width="2.2"/>
<text x="780.3" y="600" font-family="'Liberation Sans'" font-size="30.5" font-weight="normal" text-anchor="middle" >H</text>
<path d="M790.1,577.2 h6 M793.1,574.2 v6" stroke="#000" stroke-width="1.3" fill="none"/>
<path d="M803,589.5h8.8 M807.4,585.1v8.8" stroke="#000" stroke-width="2.2"/>
<text x="826" y="584.4" font-family="'Liberation Serif'" font-size="17.5" font-weight="normal" text-anchor="middle" stroke="#000" stroke-width="0.35">1</text>
<text x="825.9" y="601.6" font-family="'Liberation Serif'" font-size="18.5" font-weight="normal" text-anchor="middle" stroke="#000" stroke-width="0.35">2</text>
<path d="M816.7,586h18" stroke="#000" stroke-width="1.3"/>
<circle cx="854.9" cy="589" r="18.9" fill="#fff" stroke="#000" stroke-width="2.9"/>
<ellipse cx="854.4" cy="588.8" rx="11.6" ry="10.2" fill="none" stroke="#000" stroke-width="2.1"/>
<text x="867.4" y="601.6" font-family="'Liberation Sans'" font-size="12.8" font-weight="normal" text-anchor="middle" >3</text>
<text x="911.7" y="603.8" font-family="'Liberation Serif'" font-size="42.5" font-weight="bold" text-anchor="start" textLength="33" lengthAdjust="spacingAndGlyphs" stroke="#000" stroke-width="0.6">H</text>
<text x="946.3" y="608.8" font-family="'Liberation Serif'" font-size="19.5" font-weight="normal" text-anchor="start" >2</text>
<text x="957.8" y="603.8" font-family="'Liberation Serif'" font-size="42.5" font-weight="bold" text-anchor="start" textLength="31.2" lengthAdjust="spacingAndGlyphs" stroke="#000" stroke-width="0.6">O</text>
<text x="1035.2" y="614.6" font-family="'Liberation Sans'" font-size="16" font-weight="bold" text-anchor="start" textLength="40.8" lengthAdjust="spacingAndGlyphs" stroke="#000" stroke-width="0.45">ADP</text>
<path d="M1077.8,609h6.6 M1081.1,605.7v6.6" stroke="#000" stroke-width="1.9"/>
<circle cx="1102.5" cy="608.6" r="14.3" fill="#fff" stroke="#000" stroke-width="2.4"/>
<text x="1102.6" y="614.6" font-family="'Liberation Sans'" font-size="16.5" font-weight="bold" text-anchor="middle" stroke="#000" stroke-width="0.45">P</text>
<polygon points="1161.5,594.8 1174,606.3 1181,597.9 1185.6,606.3 1199.6,598.3 1194.6,610.8 1210.8,609.2 1199,618.6 1208.4,623.6 1198.4,628.2 1209.6,639.1 1190,634.6 1195.7,655.8 1179.8,638.5 1172.3,652.1 1168.2,638.5 1147.2,653.6 1159.8,634 1142.9,635 1155.3,625.6 1136.5,621 1156.6,617.3 1150.3,607.9 1163.7,609.6" fill="#fff" stroke="#000" stroke-width="2.5" stroke-linejoin="miter" stroke-miterlimit="10"/>
<text x="1157.4" y="626.9" font-family="'Liberation Sans'" font-size="15.8" font-weight="bold" text-anchor="start" textLength="35.6" lengthAdjust="spacingAndGlyphs" stroke="#000" stroke-width="0.45">ATP</text>
<text x="1080" y="681" font-family="'Liberation Sans'" font-size="15.4" font-weight="normal" text-anchor="start" textLength="117.5" lengthAdjust="spacingAndGlyphs" >ATP SYNTHASE</text>
</svg>
</body></html>
